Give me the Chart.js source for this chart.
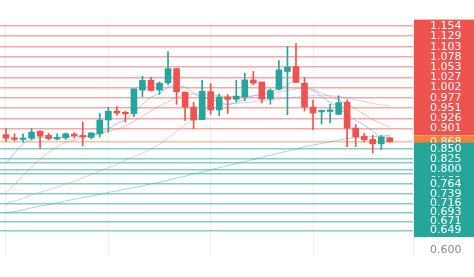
<!DOCTYPE html>
<html>
<head>
<meta charset="utf-8">
<script src="https://cdn.jsdelivr.net/npm/chart.js@4/dist/chart.umd.min.js"></script>
<style>
  html, body { margin: 0; padding: 0; background: #fff; }
  #wrap { width: 474px; height: 277px; }
</style>
</head>
<body>
<div id="wrap"><canvas id="myChart"></canvas></div>
<script>
// candles
const opens  = [0.886,0.878,0.874,0.877,0.894,0.884,0.875,0.878,0.887,0.884,0.879,0.888,0.922,0.944,0.941,0.938,0.996,1.020,0.996,1.014,1.049,0.991,0.954,0.923,0.992,0.947,0.979,0.973,0.979,1.021,1.016,0.974,0.998,1.042,1.054,1.013,0.954,0.942,0.943,0.936,0.966,0.902,0.882,0.874,0.863,0.878];
const highs  = [0.900,0.888,0.888,0.901,0.896,0.889,0.888,0.890,0.891,0.917,0.891,0.938,0.954,0.955,0.944,0.999,1.030,1.028,1.016,1.091,1.050,0.991,0.966,1.020,1.012,0.986,0.985,1.020,1.038,1.042,1.016,0.999,1.069,1.104,1.111,1.027,0.971,0.947,0.961,0.982,0.972,0.911,0.889,0.884,0.884,0.879];
const lows   = [0.869,0.870,0.868,0.873,0.852,0.873,0.873,0.873,0.878,0.858,0.875,0.880,0.892,0.933,0.917,0.930,0.980,0.994,0.985,1.009,0.961,0.921,0.901,0.922,0.936,0.933,0.938,0.967,0.970,1.009,0.964,0.961,0.996,0.935,1.015,0.944,0.898,0.912,0.915,0.935,0.856,0.856,0.868,0.840,0.849,0.867];
const closes = [0.877,0.874,0.877,0.892,0.882,0.876,0.878,0.888,0.883,0.880,0.890,0.922,0.944,0.939,0.937,0.999,1.020,0.995,1.013,1.049,0.992,0.954,0.922,0.993,0.947,0.979,0.973,0.981,1.021,1.013,0.974,0.995,1.046,1.053,1.015,0.954,0.939,0.945,0.947,0.965,0.902,0.880,0.873,0.863,0.880,0.868];

// moving averages
const maFast = [0.814,0.840,0.863,0.873,0.879,0.879,0.879,0.881,0.881,0.881,0.884,0.890,0.900,0.913,0.923,0.940,0.961,0.978,0.988,1.003,1.007,1.003,0.988,0.978,0.974,0.967,0.961,0.965,0.974,0.982,0.986,0.991,0.999,1.009,1.020,1.005,0.995,0.980,0.965,0.953,0.936,0.921,0.909,0.894,0.879,0.881];
const maMid  = [0.741,0.762,0.785,0.806,0.825,0.842,0.856,0.867,0.873,0.879,0.884,0.888,0.894,0.900,0.907,0.919,0.932,0.944,0.957,0.967,0.978,0.984,0.986,0.986,0.984,0.982,0.980,0.980,0.980,0.982,0.984,0.986,0.991,0.995,0.999,1.001,0.997,0.988,0.980,0.972,0.961,0.949,0.936,0.923,0.913,0.905];
const maSlow = [0.716,0.722,0.728,0.737,0.743,0.749,0.756,0.764,0.770,0.779,0.787,0.796,0.804,0.812,0.823,0.831,0.840,0.850,0.863,0.877,0.894,0.911,0.926,0.938,0.949,0.957,0.961,0.963,0.965,0.967,0.970,0.972,0.974,0.976,0.978,0.980,0.982,0.982,0.982,0.980,0.976,0.972,0.967,0.963,0.959,0.957];
const maLong = [0.692,0.696,0.700,0.705,0.709,0.713,0.717,0.722,0.726,0.730,0.734,0.738,0.743,0.747,0.751,0.755,0.759,0.764,0.768,0.773,0.779,0.783,0.789,0.793,0.799,0.804,0.809,0.814,0.819,0.824,0.830,0.835,0.840,0.845,0.850,0.856,0.860,0.864,0.868,0.872,0.876,0.878,0.879,0.881,0.882,0.884];

// price levels on the right axis (drawn in this order, later boxes cover earlier)
const levelsUp   = [1.154,1.129,1.103,1.078,1.053,1.027,1.002,0.977,0.951,0.926,0.901];
const priceNow   = 0.868;
const levelsDown = [0.850,0.817,0.825,0.789,0.800,0.764,0.739,0.716,0.693,0.671,0.649];
const bottomTick = 0.600;

const yMin = 0.5859, yMax = 1.1666;

const RED = '#ef5350', GREEN = '#26a69a', ORANGE = '#f7813a';

const tickOrder = [...levelsUp, priceNow, ...levelsDown, bottomTick];

const kindOf = v => {
  if (v === bottomTick) return 'none';
  if (v === priceNow) return 'now';
  return v > priceNow ? 'up' : 'down';
};

const candleColor = closes.map((c, i) => c >= opens[i] ? GREEN : RED);
const idx = closes.map((c, i) => i);

const ma = (arr, color) => ({
  type: 'line',
  data: arr.map((v, i) => ({x: i, y: v})),
  borderColor: color,
  borderWidth: 1,
  pointRadius: 0,
  tension: 0.35,
  fill: false
});

Chart.defaults.font.family = "'DejaVu Sans', sans-serif";

const ctx = document.getElementById('myChart').getContext('2d');
const chart = new Chart(ctx, {
  type: 'bar',
  data: {
    datasets: [
      {
        data: idx.map(i => ({x: i, y: [opens[i], closes[i]]})),
        backgroundColor: candleColor,
        barThickness: 6,
        minBarLength: 1.5,
        grouped: false
      },
      {
        data: idx.map(i => ({x: i, y: [lows[i], highs[i]]})),
        backgroundColor: candleColor,
        barThickness: 1,
        grouped: false
      },
      ma(maFast, 'rgba(100,175,230,0.6)'),
      ma(maMid, 'rgba(240,120,100,0.45)'),
      ma(maSlow, 'rgba(190,140,210,0.45)'),
      ma(maLong, 'rgba(60,170,150,0.45)')
    ]
  },
  options: {
    responsive: true,
    maintainAspectRatio: false,
    animation: false,
    layout: { padding: 0 },
    plugins: { legend: { display: false }, tooltip: { enabled: false } },
    scales: {
      x: {
        type: 'linear',
        min: -0.70,
        max: 47.72,
        offset: false,
        afterBuildTicks: s => { s.ticks = [0, 12, 24, 36].map(v => ({value: v})); },
        grid: { color: '#f0f0f0', offset: false, drawTicks: false },
        border: { display: false },
        ticks: { display: false }
      },
      y: {
        position: 'right',
        min: yMin,
        max: yMax,
        afterFit: s => { s.width = 61; },
        afterBuildTicks: s => { s.ticks = tickOrder.map(v => ({value: v})); },
        grid: {
          color: c => {
            const k = kindOf(c.tick.value);
            if (k === 'up') return 'rgba(239,83,80,0.5)';
            if (k === 'down') return 'rgba(38,166,154,0.55)';
            if (k === 'now') return 'rgba(247,129,58,0.5)';
            return 'rgba(0,0,0,0)';
          },
          lineWidth: 1.6,
          tickLength: 2
        },
        border: { color: '#ececec' },
        ticks: {
          autoSkip: false,
          padding: 15,
          font: { size: 11, lineHeight: 1.1 },
          color: c => kindOf(c.tick.value) === 'none' ? '#8a8a8a' : '#ffffff',
          showLabelBackdrop: c => kindOf(c.tick.value) !== 'none',
          backdropColor: c => {
            const k = kindOf(c.tick.value);
            if (k === 'up') return RED;
            if (k === 'now') return ORANGE;
            return GREEN;
          },
          backdropPadding: { top: 0.5, bottom: 0.5, left: 16, right: 13 },
          callback: v => v.toFixed(3)
        }
      }
    }
  }
});
</script>
</body>
</html>
